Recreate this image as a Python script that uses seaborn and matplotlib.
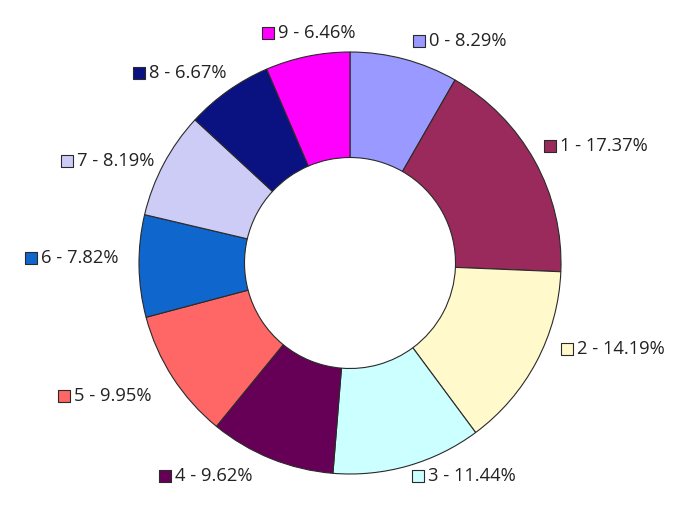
import matplotlib
matplotlib.use("Agg")
import matplotlib.pyplot as plt
import seaborn as sns

categories = ["0", "1", "2", "3", "4", "5", "6", "7", "8", "9"]
values = [8.29, 17.37, 14.19, 11.44, 9.62, 9.95, 7.82, 8.19, 6.67, 6.46]
colors = ["#9999FF", "#992A5B", "#FFF9CC", "#CCFFFF", "#660057",
          "#FF6666", "#0F66CC", "#CCCCF7", "#0A1282", "#FF00FF"]

# label anchor positions (pixel coords of marker square centre), layout only
label_pos = [(419, 41), (550, 146), (567, 349), (418, 476), (165, 476),
             (64, 396), (31, 258), (67, 161), (139, 73), (268, 33)]

sns.set_theme(style="white")
plt.rcParams['font.family'] = ['Open Sans', 'DejaVu Sans']

W, H = 685, 507
fig = plt.figure(figsize=(W / 100, H / 100), dpi=100)
ax = fig.add_axes([0, 0, 1, 1])
pal = sns.color_palette(colors)

cx, cy, R = 350, H - 263, 211
ax.pie(values, colors=pal, startangle=90, counterclock=False,
       center=(cx, cy), radius=R,
       wedgeprops=dict(width=R * 0.5, edgecolor="#2a2a2a", linewidth=0.8))
ax.set_xlim(0, W)
ax.set_ylim(0, H)
ax.set_aspect("equal")
ax.axis("off")

for cat, v, col, (px, py) in zip(categories, values, pal, label_pos):
    y = H - py
    ax.scatter([px], [y], marker="s", s=72, color=col, edgecolor="#2a2a2a",
               linewidth=0.8, zorder=5)
    ax.text(px + 10, y, f"{cat} - {v:.2f}%", fontsize=13.2, color="#222222",
            va="center", ha="left", fontweight="medium")

fig.savefig("out.png", dpi=100, facecolor="white")
